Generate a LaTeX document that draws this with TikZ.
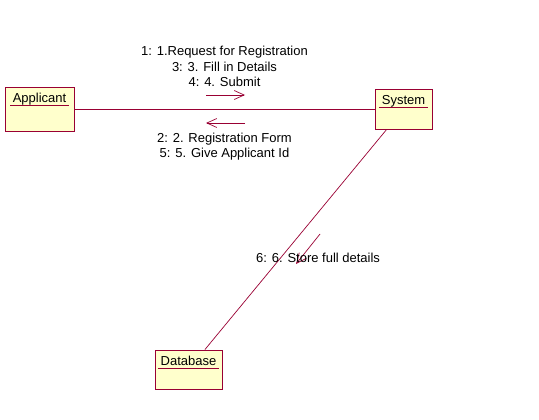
\documentclass[tikz,border=0pt]{standalone}
\usepackage{fontspec}
\setmainfont{Liberation Sans}
\usetikzlibrary{arrows.meta,positioning}
\definecolor{umlred}{HTML}{990033}
\definecolor{umlfill}{HTML}{FFFFCC}

\begin{document}
\begin{tikzpicture}[x=1pt,y=-1pt,
		font=\fontsize{13}{15.5}\selectfont,
		obj/.style={draw=umlred,fill=umlfill,line width=0.9pt,inner sep=0pt},
		objname/.style={inner xsep=2.5pt,inner ysep=0.5pt,text height=9pt,text depth=2pt},
		link/.style={draw=umlred,line width=0.7pt},
		msg/.style={draw=umlred,line width=0.7pt,-{Straight Barb[length=10pt,width=9pt]}},
		msgtext/.style={align=center,inner sep=0pt}]
			\useasboundingbox (0,0) rectangle (539,420);
			% objects
			\node[obj,minimum width=69pt,minimum height=44pt] (app) at (39.5,109) {};
			\node[obj,minimum width=57pt,minimum height=40pt] (sys) at (403.5,109) {};
			\node[obj,minimum width=67pt,minimum height=39pt] (db) at (188.5,369.5) {};
			\node[objname,below=6pt of app.north] (appname) {Applicant};
			\node[objname,below=6pt of sys.north] (sysname) {System};
			\node[objname,below=6pt of db.north] (dbname) {Database};
			\draw[umlred,line width=0.8pt] (appname.south west) -- (appname.south east);
			\draw[umlred,line width=0.8pt] (sysname.south west) -- (sysname.south east);
			\draw[umlred,line width=0.8pt] (dbname.south west) -- (dbname.south east);
			% links
			\draw[link] (app) -- (sys);
			\draw[link] (sys) -- (db);
			% messages
			\coordinate (fwdA) at (206,95);
			\coordinate (fwdB) at (245,95);
			\coordinate (backA) at (245,123);
			\coordinate (backB) at (206,123);
			\coordinate (storeA) at (320,234);
			\coordinate (storeB) at (296,264);
			\draw[msg] (fwdA) -- (fwdB);
			\draw[msg] (backA) -- (backB);
			\draw[msg] (storeA) -- (storeB);
			\node[msgtext] (fwdtext) at (224.5,66.5) {1: 1.Request for Registration\\3: 3. Fill in Details\\4: 4. Submit};
			\node[msgtext] (backtext) at (224.5,146.5) {2: 2. Registration Form\\5: 5. Give Applicant Id};
			\node[msgtext,anchor=west] (storetext) at (256,258) {6: 6. Store full details};
		\end{tikzpicture}
\end{document}
